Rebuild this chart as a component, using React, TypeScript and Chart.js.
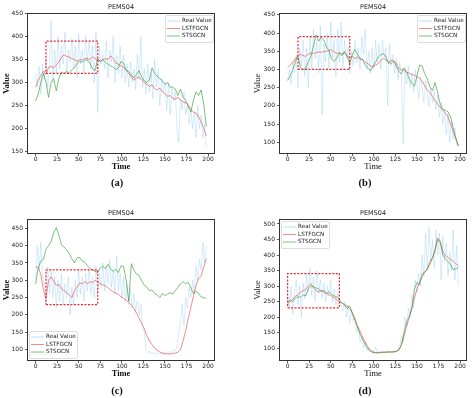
import React, { useEffect, useRef } from "react";
import { Chart, registerables } from "chart.js";
Chart.register(...registerables);

// ---------- DATA ----------
const seriesNames = ["Real Value", "LSTFGCN", "STSGCN"];
const chartTitle = "PEMS04";
const xTicks = [0, 25, 50, 75, 100, 125, 150, 175, 200];
const yTicksA = [150, 200, 250, 300, 350, 400, 450];
const yTicksB = [100, 150, 200, 250, 300, 350, 400, 450];
const yTicksC = [100, 150, 200, 250, 300, 350, 400, 450];
const yTicksD = [100, 150, 200, 250, 300, 350, 400, 450, 500];
const realStep = 2; // time step between real samples
const predStep = 3; // time step between prediction samples

const realA = [320, 290, 335, 275, 340, 305, 350, 290, 330, 435, 300,
  370, 320, 400, 330, 380, 340, 410, 320, 370, 345,
  395, 330, 380, 310, 405, 340, 370, 320, 400, 345,
  390, 330, 380, 300, 410, 235, 380, 340, 360, 330,
  390, 310, 370, 345, 400, 300, 360, 320, 380, 310,
  360, 300, 340, 290, 345, 300, 330, 285, 360, 305,
  400, 290, 330, 275, 340, 280, 320, 265, 350, 290,
  330, 250, 310, 280, 300, 240, 300, 230, 290, 260,
  280, 200, 170, 265, 240, 280, 230, 250, 210, 240,
  200, 235, 180, 250, 200, 230, 180, 210, 160];
const lstfA = [290, 305, 315, 325, 318, 333, 335, 332, 338, 345,
  355, 360, 357, 355, 352, 350, 346, 350, 349, 352,
  353, 350, 356, 352, 348, 346, 350, 352, 350, 358,
  352, 342, 340, 336, 333, 328, 320, 312, 305, 310,
  312, 306, 300, 296, 292, 295, 287, 284, 288, 280,
  276, 270, 272, 266, 264, 268, 262, 258, 256, 252,
  242, 236, 234, 225, 215, 200, 184];
const stsA = [260, 275, 300, 320, 300, 268, 302, 308, 282, 310,
  322, 320, 324, 320, 328, 332, 342, 346, 344, 348,
  350, 342, 330, 326, 352, 346, 350, 344, 340, 336,
  334, 328, 332, 346, 342, 326, 324, 316, 310, 318,
  326, 312, 304, 300, 306, 332, 320, 314, 308, 304,
  296, 300, 290, 290, 286, 272, 286, 268, 262, 248,
  236, 262, 280, 272, 284, 252, 205];
const boxA = [12, 72, 320, 390];

const realB = [270, 300, 260, 320, 290, 340, 250, 360, 310, 380, 280,
  360, 250, 390, 300, 410, 330, 380, 290, 420, 175,
  370, 320, 400, 300, 430, 330, 380, 280, 410, 320,
  430, 300, 380, 330, 360, 290, 350, 310, 380, 320,
  360, 300, 390, 340, 410, 300, 350, 290, 360, 300,
  380, 320, 370, 300, 380, 330, 360, 200, 370, 310,
  340, 290, 330, 270, 320, 280, 95, 300, 260, 310,
  250, 290, 240, 300, 260, 220, 280, 250, 210, 270,
  230, 200, 250, 210, 240, 190, 230, 170, 210, 150,
  190, 120, 180, 100, 160, 110, 140, 95, 90];
const lstfB = [305, 312, 320, 330, 338, 342, 338, 336, 342, 345,
  344, 346, 348, 347, 349, 350, 352, 354, 348, 344,
  346, 342, 345, 338, 332, 336, 330, 334, 328, 326,
  320, 316, 310, 308, 312, 316, 325, 330, 326, 322,
  316, 322, 318, 302, 300, 298, 292, 290, 286, 284,
  280, 276, 268, 255, 244, 236, 226, 214, 205, 196,
  188, 180, 170, 150, 130, 110, 90];
const stsB = [270, 282, 300, 322, 336, 305, 300, 302, 322, 335,
  365, 395, 378, 388, 380, 362, 352, 328, 322, 332,
  345, 338, 350, 336, 316, 340, 355, 342, 330, 328,
  312, 304, 296, 308, 320, 334, 340, 344, 336, 316,
  326, 324, 308, 294, 288, 305, 294, 274, 262, 254,
  282, 312, 310, 288, 274, 252, 242, 264, 236, 204,
  190, 188, 184, 170, 140, 112, 90];
const boxB = [12, 72, 300, 390];

const realC = [300, 400, 330, 410, 310, 290, 230, 340, 260, 330, 250,
  310, 220, 300, 240, 320, 230, 290, 250, 310, 200,
  280, 230, 300, 250, 330, 260, 310, 240, 320, 270,
  330, 260, 310, 250, 340, 260, 320, 280, 350, 270,
  340, 290, 360, 280, 330, 260, 370, 270, 320, 250,
  310, 240, 290, 230, 280, 220, 260, 210, 240, 200,
  230, 170, 150, 100, 90, 95, 88, 92, 88, 90,
  88, 90, 88, 92, 88, 90, 88, 95, 90, 100,
  95, 110, 150, 180, 230, 170, 250, 220, 280, 250,
  300, 260, 340, 300, 360, 330, 410, 350, 400];
const lstfC = [340, 336, 318, 272, 248, 300, 310, 298, 285, 288,
  276, 270, 264, 258, 250, 270, 280, 292, 290, 296,
  290, 296, 294, 300, 296, 290, 287, 284, 278, 272,
  266, 263, 260, 252, 248, 242, 236, 228, 218, 205,
  190, 175, 160, 140, 125, 114, 104, 98, 93, 90,
  88, 88, 87, 88, 90, 92, 100, 125, 155, 190,
  222, 255, 285, 305, 312, 340, 362];
const stsC = [290, 335, 355, 360, 390, 400, 412, 438, 452, 430,
  402, 396, 388, 378, 362, 350, 365, 366, 356, 352,
  342, 334, 330, 326, 322, 336, 340, 334, 346, 332,
  326, 332, 322, 342, 340, 300, 240, 348, 330, 318,
  314, 298, 286, 280, 270, 272, 262, 258, 250, 262,
  256, 260, 264, 260, 270, 280, 290, 296, 290, 294,
  278, 262, 268, 262, 252, 250, 248];
const boxC = [12, 72, 230, 330];

const realD = [260, 230, 300, 210, 280, 320, 240, 300, 200, 310, 260,
  340, 280, 360, 270, 330, 250, 350, 280, 320, 260,
  310, 250, 300, 270, 320, 250, 290, 240, 280, 250,
  240, 220, 250, 200, 240, 180, 220, 190, 200, 150,
  170, 120, 140, 100, 120, 92, 100, 90, 95, 88,
  105, 86, 90, 88, 92, 86, 88, 90, 87, 89,
  88, 90, 92, 95, 110, 140, 120, 200, 170, 230,
  200, 270, 230, 320, 280, 340, 300, 400, 330, 470,
  350, 490, 380, 450, 360, 480, 400, 470, 320, 460,
  380, 440, 330, 410, 350, 480, 320, 430, 300];
const lstfD = [245, 250, 258, 268, 272, 280, 285, 290, 300, 308,
  296, 285, 280, 286, 280, 276, 272, 268, 262, 256,
  250, 246, 240, 236, 228, 214, 195, 172, 155, 135,
  120, 105, 94, 88, 86, 86, 87, 88, 88, 88,
  88, 89, 90, 95, 110, 140, 170, 200, 230, 262,
  290, 312, 330, 345, 355, 370, 390, 420, 455, 445,
  410, 398, 392, 385, 380, 372, 365];
const stsD = [250, 255, 250, 262, 266, 264, 272, 268, 292, 300,
  298, 294, 290, 284, 286, 276, 282, 274, 268, 266,
  256, 246, 240, 228, 236, 214, 190, 168, 145, 128,
  112, 98, 90, 86, 85, 85, 86, 86, 87, 88,
  88, 88, 89, 94, 112, 150, 185, 202, 225, 290,
  312, 305, 340, 345, 355, 378, 392, 415, 450, 440,
  400, 388, 378, 370, 352, 356, 360];
const boxD = [0, 60, 230, 340];

// ---------- STYLE / LAYOUT ----------
const realColor = "rgba(120,190,240,0.38)";
const lstfColor = "rgba(240,60,60,0.6)";
const stsColor = "rgba(40,150,40,0.6)";
const boxColor = "#e8262a";
const W = 237;
const H = 199;

const panels = [
  { key: "a", px: 0, py: 0, padL: 0, yW: 27, padT: 13, padR: 22, areaB: 154, label: "(a)", lx: 117, ly: 183, legend: "tr", bold: true,
    real: realA, lstf: lstfA, sts: stsA, box: boxA, yTicks: yTicksA, yMin: 145, yMax: 451 },
  { key: "b", px: 237, py: 0, padL: 14, yW: 28, padT: 13, padR: 7, areaB: 154, label: "(b)", lx: 128, ly: 183, legend: "tr", bold: false,
    real: realB, lstf: lstfB, sts: stsB, box: boxB, yTicks: yTicksB, yMin: 68, yMax: 455 },
  { key: "c", px: 0, py: 199, padL: 0, yW: 27, padT: 20, padR: 22, areaB: 162, label: "(c)", lx: 117, ly: 192, legend: "bl", bold: true,
    real: realC, lstf: lstfC, sts: stsC, box: boxC, yTicks: yTicksC, yMin: 67, yMax: 477 },
  { key: "d", px: 237, py: 199, padL: 14, yW: 28, padT: 20, padR: 7, areaB: 162, label: "(d)", lx: 128, ly: 192, legend: "tl", bold: false,
    real: realD, lstf: lstfD, sts: stsD, box: boxD, yTicks: yTicksD, yMin: 59, yMax: 516 },
];

const XH = 21;

function makeDeco(cfg: any) {
  return {
    id: "deco" + cfg.key,
    afterDatasetsDraw(chart: any) {
      const { ctx, chartArea: ca } = chart;
      ctx.save();
      // frame
      ctx.strokeStyle = "#333";
      ctx.lineWidth = 1;
      ctx.strokeRect(ca.left + 0.5, ca.top + 0.5, ca.right - ca.left - 1, ca.bottom - ca.top - 1);
      // legend
      const bw = 48, bh = 27;
      let bx = ca.right - 2 - bw, by = ca.top + 2;
      if (cfg.legend === "tl") { bx = ca.left + 2; by = ca.top + 2; }
      if (cfg.legend === "bl") { bx = ca.left + 2; by = ca.bottom - 3 - bh; }
      ctx.fillStyle = "rgba(255,255,255,0.85)";
      ctx.strokeStyle = "#d4d4d4";
      ctx.lineWidth = 0.8;
      ctx.beginPath();
      (ctx as any).roundRect(bx + 0.5, by + 0.5, bw, bh, 1.5);
      ctx.fill();
      ctx.stroke();
      const cols = ["rgba(120,190,240,0.5)", lstfColor, stsColor];
      ctx.font = '5.7px "DejaVu Sans"';
      ctx.textAlign = "left";
      ctx.textBaseline = "middle";
      seriesNames.forEach((n, i) => {
        const yy = by + 6 + i * 7.5;
        ctx.strokeStyle = cols[i];
        ctx.lineWidth = 1;
        ctx.beginPath();
        ctx.moveTo(bx + 2, yy);
        ctx.lineTo(bx + 15, yy);
        ctx.stroke();
        ctx.fillStyle = "#222";
        ctx.fillText(n, bx + 17, yy);
      });
      // title
      ctx.font = '6.5px "DejaVu Sans"';
      ctx.textAlign = "center";
      ctx.fillStyle = "#222";
      ctx.fillText(chartTitle, (ca.left + ca.right) / 2, ca.top - 6);
      // sub label
      ctx.font = 'bold 10.5px "Liberation Serif"';
      ctx.fillStyle = "#111";
      ctx.fillText(cfg.label, cfg.lx, cfg.ly);
      ctx.restore();
    },
  };
}

function Panel({ cfg }: { cfg: any }) {
  const ref = useRef<HTMLCanvasElement>(null);
  useEffect(() => {
    const real = cfg.real.map((v: number, i: number) => ({ x: i * realStep, y: v }));
    const lstf = cfg.lstf.map((v: number, i: number) => ({ x: i * predStep, y: v }));
    const sts = cfg.sts.map((v: number, i: number) => ({ x: i * predStep, y: v }));
    const [bx0, bx1, by0, by1] = cfg.box;
    const rect = [
      { x: bx0, y: by0 }, { x: bx1, y: by0 }, { x: bx1, y: by1 }, { x: bx0, y: by1 }, { x: bx0, y: by0 },
    ];
    const tickFont = { size: 6, family: '"DejaVu Sans"' };
    const titleFont = { size: 8.5, family: '"Liberation Serif"', weight: cfg.bold ? "bold" : "normal" };
    const chart = new Chart(ref.current!, {
      type: "line",
      data: {
        datasets: [
          { label: "box", data: rect, borderColor: boxColor, borderWidth: 1.2, borderDash: [2, 1.5], pointRadius: 0, order: 0, tension: 0 },
          { label: seriesNames[2], data: sts, borderColor: stsColor, borderWidth: 1, pointRadius: 0, order: 1, tension: 0 },
          { label: seriesNames[1], data: lstf, borderColor: lstfColor, borderWidth: 1, pointRadius: 0, order: 2, tension: 0 },
          { label: seriesNames[0], data: real, borderColor: realColor, borderWidth: 0.8, pointRadius: 0, order: 3, tension: 0 },
        ] as any,
      },
      options: {
        responsive: false,
        animation: false,
        devicePixelRatio: 1,
        layout: { padding: { left: cfg.padL, top: cfg.padT, right: cfg.padR, bottom: H - cfg.areaB - XH } },
        plugins: { legend: { display: false }, tooltip: { enabled: false }, title: { display: false } },
        scales: {
          x: {
            type: "linear",
            min: -10,
            max: 208,
            afterBuildTicks: (s: any) => { s.ticks = xTicks.map((v) => ({ value: v })); },
            afterFit: (s: any) => { s.height = XH; },
            ticks: { font: tickFont, color: "#222", padding: 0, maxRotation: 0, autoSkip: false },
            grid: { display: true, drawOnChartArea: false, drawTicks: true, tickLength: 2, color: "#333", lineWidth: 0.8 },
            border: { display: false },
            title: { display: true, text: "Time", font: titleFont as any, color: "#111", padding: { top: 0, bottom: 3 } },
          },
          y: {
            type: "linear",
            min: cfg.yMin,
            max: cfg.yMax,
            afterBuildTicks: (s: any) => { s.ticks = cfg.yTicks.map((v: number) => ({ value: v })); },
            afterFit: (s: any) => { s.width = cfg.yW; },
            ticks: { font: tickFont, color: "#222", padding: 2, autoSkip: false },
            grid: { display: true, drawOnChartArea: false, drawTicks: true, tickLength: 2, color: "#333", lineWidth: 0.8 },
            border: { display: false },
            title: { display: true, text: "Value", font: titleFont as any, color: "#111", padding: { top: 2, bottom: 0 } },
          },
        },
      } as any,
      plugins: [makeDeco(cfg)],
    });
    return () => chart.destroy();
  }, [cfg]);
  return (
    <canvas
      ref={ref}
      width={W}
      height={H}
      style={{ position: "absolute", left: cfg.px, top: cfg.py, width: W, height: H, display: "block" }}
    />
  );
}

export default function App() {
  return (
    <div style={{ position: "fixed", left: 0, top: 0, width: 474, height: 398, background: "#fff" }}>
      {panels.map((p) => (
        <Panel key={p.key} cfg={p} />
      ))}
    </div>
  );
}
